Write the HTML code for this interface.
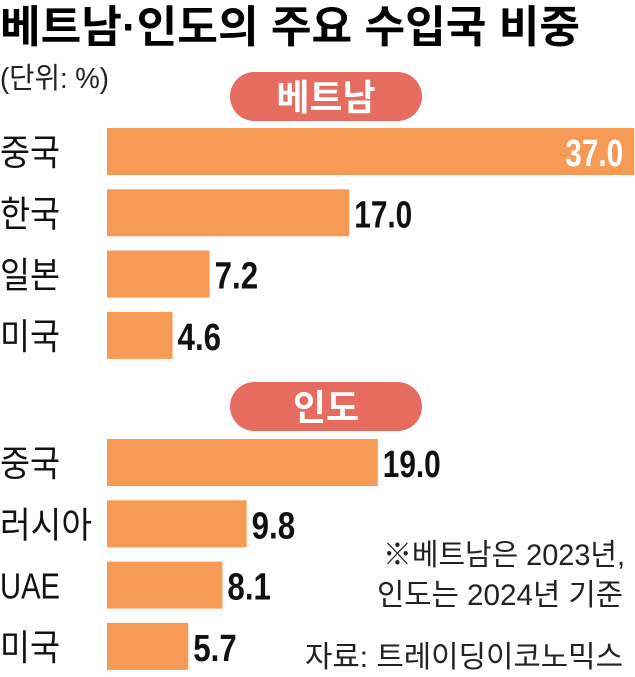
<!DOCTYPE html>
<html><head><meta charset="utf-8"><style>
body{margin:0;background:#fff}
svg{display:block}
text{font-family:"Liberation Sans","Noto Sans CJK KR",sans-serif}
</style></head><body>
<svg id="c" width="635" height="677" xmlns="http://www.w3.org/2000/svg">
<text x="0" y="42" font-size="44" font-weight="bold" textLength="580" lengthAdjust="spacingAndGlyphs">베트남·인도의 주요 수입국 비중</text>
<text x="0" y="88" font-size="29" fill="#222" textLength="109" lengthAdjust="spacingAndGlyphs">(단위: %)</text>
<text x="625" y="565" font-size="30" text-anchor="end" fill="#222" textLength="242" lengthAdjust="spacingAndGlyphs">※베트남은 2023년,</text>
<text x="623" y="605" font-size="30" text-anchor="end" fill="#222" textLength="246" lengthAdjust="spacingAndGlyphs">인도는 2024년 기준</text>
<text x="623" y="667" font-size="30" text-anchor="end" fill="#222" textLength="318" lengthAdjust="spacingAndGlyphs">자료: 트레이딩이코노믹스</text>
</svg>
<script>
const vnCategories=["중국","한국","일본","미국"];
const vnValues=[37.0,17.0,7.2,4.6];
const vnLabels=["37.0","17.0","7.2","4.6"];
const inCategories=["중국","러시아","UAE","미국"];
const inValues=[19.0,9.8,8.1,5.7];
const inLabels=["19.0","9.8","8.1","5.7"];
const svg=document.getElementById('c');
const NS="http://www.w3.org/2000/svg";
const x0=107, maxW=528, k=14.25;
function xw(v){return Math.min(v*k,maxW);}
function mk(tag,attrs){const e=document.createElementNS(NS,tag);for(const a in attrs)e.setAttribute(a,attrs[a]);svg.appendChild(e);return e;}
function group(name,title,pillY,barY0,cats,vals,labs){
  const p=mk('rect',{x:230,y:pillY,width:192,height:49,rx:24.5,fill:'#e56c5f'});
  
  
  const t=mk('text',{x:326,y:pillY+38,'font-size':36,'font-weight':'bold',fill:'#fff','text-anchor':'middle'});
  t.textContent=title;
  
  
  cats.forEach((c,i)=>{
    const y=barY0+i*61.3;
    const w=xw(vals[i]);
    const r=mk('rect',{x:x0,y:y,width:w,height:47,fill:'#f79a56'});
    
    
    const cl=mk('text',{x:0,y:y+37,'font-size':36,fill:'#111',textLength:c.length===3?(c==='UAE'?60:92):60,lengthAdjust:'spacingAndGlyphs'});
    cl.textContent=c;
    
    
    const inside=x0+w+60>635;
    const vl=mk('text',{x:inside?x0+w-11:x0+w+5,y:y+38,'font-size':38,'font-weight':'bold',fill:inside?'#fff':'#111','text-anchor':inside?'end':'start',textLength:labs[i].length*14.5,lengthAdjust:'spacingAndGlyphs'});
    vl.textContent=labs[i];
    
    
  });
}
group('vietnam','베트남',72,128,vnCategories,vnValues,vnLabels);
group('india','인도',382,439,inCategories,inValues,inLabels);
</script>
</body></html>
